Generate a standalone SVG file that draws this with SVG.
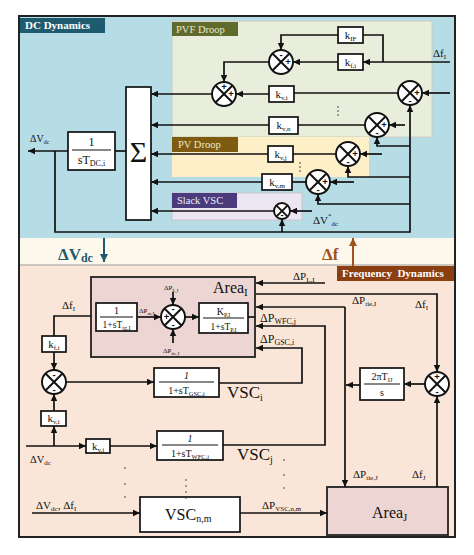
<svg xmlns="http://www.w3.org/2000/svg" width="474" height="555" viewBox="0 0 474 555">
<style>
text{font-family:"Liberation Serif","Times New Roman",serif;fill:#111}
.c line,.c path{fill:none;stroke:#111;stroke-width:1.7}
.a{marker-end:url(#ar)}
.blk{fill:#fff;stroke:#111;stroke-width:1.7}
.sj circle{fill:#fff;stroke:#111;stroke-width:1.9}
.sj line{stroke:#111;stroke-width:1.9}
.sg{font-size:9.5px;font-weight:bold;font-family:"Liberation Sans",Arial,sans-serif;text-anchor:middle}
.lbl{font-weight:bold;fill:#fff;font-size:11px}
.k{font-size:11px;text-anchor:middle}
.m{text-anchor:middle}
</style>
<defs>
<marker id="ar" markerWidth="8" markerHeight="8" refX="7" refY="4" orient="auto" markerUnits="userSpaceOnUse">
<path d="M0,0.8 L7,4 L0,7.2 z" fill="#111"/>
</marker>
<marker id="art" markerWidth="9" markerHeight="9" refX="8" refY="4.5" orient="auto" markerUnits="userSpaceOnUse">
<path d="M0,0.5 L8,4.5 L0,8.5 z" fill="#1f5b6f"/>
</marker>
<marker id="arb" markerWidth="9" markerHeight="9" refX="8" refY="4.5" orient="auto" markerUnits="userSpaceOnUse">
<path d="M0,0.5 L8,4.5 L0,8.5 z" fill="#a0521c"/>
</marker>
<g id="x12" class="sj"><circle r="12"/><line x1="-8.5" y1="-8.5" x2="8.5" y2="8.5"/><line x1="-8.5" y1="8.5" x2="8.5" y2="-8.5"/></g>
<g id="x8" class="sj"><circle r="8"/><line x1="-5.7" y1="-5.7" x2="5.7" y2="5.7"/><line x1="-5.7" y1="5.7" x2="5.7" y2="-5.7"/></g>
</defs>

<!-- backgrounds -->
<g id="frame">
<rect x="19" y="16" width="436" height="521" fill="#fae6d8"/>
<rect x="19" y="16" width="436" height="222" fill="#b6dce6"/>
<rect x="19" y="238" width="436" height="27" fill="#fdf8ec"/>
<line x1="19" y1="265" x2="455" y2="265" stroke="#999" stroke-width="1"/>
<rect x="19" y="16" width="436" height="521" fill="none" stroke="#222" stroke-width="2"/>
</g>
<g id="pvf-region"><rect x="172" y="21" width="260" height="116" fill="#e9eedc" stroke="#c9ccbf" stroke-width="1"/><rect x="172" y="22" width="66" height="14" fill="#5f6b2c"/><text x="176" y="33" font-size="10.5" style="fill:#efe6c6">PVF Droop</text></g>
<g id="pv-region"><rect x="172" y="137" width="197" height="40" fill="#fdf0c8"/><rect x="172" y="137" width="66" height="15" fill="#7d5c12"/><text x="178" y="148" font-size="10.5" style="fill:#f3e6c0">PV Droop</text></g>
<g id="slack-region"><rect x="172" y="193" width="130" height="27" fill="#ebe6f2" stroke="#c8c4d0" stroke-width="1"/><rect x="172" y="193" width="65" height="15" fill="#4b3b7c"/><text x="177" y="204" font-size="10.5" style="fill:#f0ecf8">Slack VSC</text></g>
<g id="dc-label"><rect x="20" y="18" width="85" height="15" fill="#1f5b6f"/><text x="25" y="29" class="lbl">DC Dynamics</text></g>
<g id="areaI-bg"><rect x="91" y="277" width="164" height="80" fill="#edd5d3" stroke="#222" stroke-width="1.8"/></g>
<g id="areaJ"><rect x="327" y="487" width="121" height="48" fill="#edd5d3" stroke="#222" stroke-width="1.8"/><text x="372" y="518" font-size="16">Area<tspan font-size="11" dy="3">J</tspan></text></g>

<!-- connectors -->
<g id="connectors" class="c">
<path class="a" d="M450,62 H363"/>
<path d="M383,62 V35 H363"/>
<path class="a" d="M338,35 H281 V50"/>
<path class="a" d="M338,62 H293"/>
<path class="a" d="M269,62 H224 V82"/>
<path class="a" d="M450,93 H422"/>
<path d="M398,93 H294"/>
<path class="a" d="M269,94 H236"/>
<path class="a" d="M212,94 H151"/>
<path class="a" d="M405,125 H389"/>
<path d="M365,125 H298"/>
<path class="a" d="M269,125 H151"/>
<path class="a" d="M410,146 H377 V137"/>
<path class="a" d="M382,154 H360"/>
<path d="M336,154 H293"/>
<path class="a" d="M268,154 H151"/>
<path class="a" d="M410,177 H348 V166"/>
<path class="a" d="M354,182 H330"/>
<path d="M306,182 H292"/>
<path class="a" d="M262,182 H151"/>
<path class="a" d="M410,204 H318 V194"/>
<path class="a" d="M312,211 H290"/>
<path class="a" d="M274,211 H151"/>
<path class="a" d="M282,232 V219"/>
<path class="a" d="M55,151 V232 H410 V105"/>
<path d="M126,151 H115"/>
<path class="a" d="M68,151 H28"/>
<path d="M104,238 V262" style="stroke:#1f5b6f;stroke-width:2;marker-end:url(#art)"/>
<path d="M353,266 V238" style="stroke:#a0521c;stroke-width:2;marker-end:url(#arb)"/>
<path d="M91,316 H54 V336"/>
<path class="a" d="M54,352 V370"/>
<path class="a" d="M66,382 H154"/>
<path class="a" d="M26,446 H86"/>
<path class="a" d="M54,446 V426"/>
<path class="a" d="M54,411 V394"/>
<path class="a" d="M110,446 H157"/>
<path class="a" d="M219,383 H302 V348 H256"/>
<path class="a" d="M223,445 H325 V326 H256"/>
<path class="a" d="M345,307 H256"/>
<path class="a" d="M345,307 V487"/>
<path class="a" d="M325,283 H256"/>
<path class="a" d="M256,294 H437 V372"/>
<path class="a" d="M425,384 H404"/>
<path class="a" d="M360,385 H346"/>
<path class="a" d="M437,487 V396"/>
<path class="a" d="M32,513 H140"/>
<path class="a" d="M240,513 H327"/>
<path class="a" d="M137,317 H161"/>
<path class="a" d="M173,292 V305"/>
<path class="a" d="M173,343 V329"/>
<path class="a" d="M185,317 H199"/>
<path d="M248,317 H255"/>
</g>

<!-- top nodes -->
<g id="sum"><rect class="blk" x="126" y="87" width="25" height="133"/><text x="138.5" y="162" font-size="30" class="m">Σ</text></g>
<g id="tdc"><rect class="blk" x="68" y="132" width="47" height="38"/><text x="91.5" y="146" font-size="12" class="m">1</text><line x1="72" y1="150" x2="111" y2="150" stroke="#111" stroke-width="1.2"/><text x="91.5" y="164" font-size="12" class="m">sT<tspan font-size="8" dy="2">DC,i</tspan></text></g>
<g id="kIF"><rect class="blk" x="338" y="27" width="25" height="16"/><text x="350.5" y="39" class="k">k<tspan font-size="7" dy="2">IF</tspan></text></g>
<g id="kfi-top"><rect class="blk" x="338" y="54" width="25" height="16"/><text x="350.5" y="66" class="k">k<tspan font-size="7" dy="2">f,i</tspan></text></g>
<g id="kvi-top"><rect class="blk" x="269" y="86" width="25" height="16"/><text x="281.5" y="98" class="k">k<tspan font-size="7" dy="2">v,i</tspan></text></g>
<g id="kvn"><rect class="blk" x="269" y="117" width="29" height="17"/><text x="283.5" y="129" class="k">k<tspan font-size="7" dy="2">v,n</tspan></text></g>
<g id="kvj-top"><rect class="blk" x="268" y="146" width="25" height="16"/><text x="280.5" y="158" class="k">k<tspan font-size="7" dy="2">v,j</tspan></text></g>
<g id="kvm"><rect class="blk" x="262" y="174" width="30" height="16"/><text x="277" y="186" class="k">k<tspan font-size="7" dy="2">v,m</tspan></text></g>
<g id="j1"><use href="#x12" x="281" y="62"/><text x="281" y="58" class="sg">-</text><text x="288" y="65" class="sg">+</text></g>
<g id="j2"><use href="#x12" x="224" y="94"/><text x="224" y="90" class="sg">+</text><text x="231" y="97" class="sg">+</text></g>
<g id="jr"><use href="#x12" x="410" y="93"/><text x="417" y="96" class="sg">+</text><text x="410" y="104" class="sg">-</text></g>
<g id="j3"><use href="#x12" x="377" y="125"/><text x="384" y="128" class="sg">+</text><text x="377" y="136" class="sg">-</text></g>
<g id="j4"><use href="#x12" x="348" y="154"/><text x="355" y="157" class="sg">+</text><text x="348" y="165" class="sg">-</text></g>
<g id="j5"><use href="#x12" x="318" y="182"/><text x="325" y="185" class="sg">+</text><text x="318" y="193" class="sg">-</text></g>
<g id="js"><use href="#x8" x="282" y="211"/><text x="282" y="218" class="sg" font-size="7">-</text></g>
<g id="dots-top"><circle cx="338" cy="107" r="0.8" fill="#333"/><circle cx="338" cy="111" r="0.8" fill="#333"/><circle cx="338" cy="115" r="0.8" fill="#333"/><circle cx="300" cy="163" r="0.8" fill="#333"/><circle cx="300" cy="167" r="0.8" fill="#333"/><circle cx="300" cy="171" r="0.8" fill="#333"/></g>
<g id="top-labels">
<text x="433" y="57" font-size="11">Δf<tspan font-size="7" dy="2">I</tspan></text>
<text x="30" y="142" font-size="10">ΔV<tspan font-size="6" dy="2">dc</tspan></text>
<text x="313" y="224" font-size="11">ΔV<tspan font-size="7" dy="-6">*</tspan><tspan font-size="7" dy="8">dc</tspan></text>
</g>

<!-- middle -->
<g id="mid-labels">
<text x="58" y="260" font-size="17" font-weight="bold" style="fill:#1f5b6f">ΔV<tspan font-size="12" dy="2">dc</tspan></text>
<text x="322" y="260" font-size="17" font-weight="bold" style="fill:#a0521c">Δf</text>
<rect x="337" y="266" width="117" height="15" fill="#8b3e0f"/>
<text x="342" y="277" class="lbl" font-size="10.5" xml:space="preserve">Frequency  Dynamics</text>
</g>

<!-- area I internals -->
<g id="areaI">
<text x="213" y="293" font-size="16">Area<tspan font-size="11" dy="3">I</tspan></text>
<rect class="blk" x="96" y="303" width="41" height="28"/><text x="116.5" y="314" font-size="10" class="m">1</text><line x1="100" y1="317" x2="133" y2="317" stroke="#111" stroke-width="1"/><text x="116.5" y="328" font-size="9.5" class="m">1+sT<tspan font-size="6" dy="2">tg,I</tspan></text>
<text x="139" y="313" font-size="7">ΔP<tspan font-size="5" dy="1.5">m,I</tspan></text>
<text x="164" y="290" font-size="7">ΔP<tspan font-size="5" dy="1.5">L,I</tspan></text>
<text x="163" y="353" font-size="7">ΔP<tspan font-size="5" dy="1.5">tie,I</tspan></text>
<use href="#x12" x="173" y="317"/><text x="173" y="312" class="sg" font-size="7">-</text><text x="166.5" y="320" class="sg" font-size="7">+</text><text x="173" y="328" class="sg" font-size="7">-</text>
<rect class="blk" x="199" y="303" width="49" height="30"/><text x="223.5" y="315" font-size="10" class="m">K<tspan font-size="6" dy="2">P,I</tspan></text><line x1="203" y1="318" x2="244" y2="318" stroke="#111" stroke-width="1"/><text x="223.5" y="330" font-size="9.5" class="m">1+sT<tspan font-size="6" dy="2">P,I</tspan></text>
</g>

<!-- lower nodes -->
<g id="kfi-low"><rect class="blk" x="42" y="336" width="24" height="16"/><text x="54" y="348" class="k">k<tspan font-size="7" dy="2">f,i</tspan></text></g>
<g id="jb"><use href="#x12" x="54" y="382"/><text x="54" y="378" class="sg">-</text><text x="54" y="393" class="sg">-</text></g>
<g id="kvi-low"><rect class="blk" x="41" y="411" width="25" height="15"/><text x="53.5" y="422" class="k">k<tspan font-size="7" dy="2">v,i</tspan></text></g>
<g id="kvj-low"><rect class="blk" x="86" y="439" width="24" height="14"/><text x="98" y="450" class="k">k<tspan font-size="7" dy="2">v,j</tspan></text></g>
<g id="gsc"><rect class="blk" x="154" y="368" width="65" height="29"/><text x="186.5" y="379" font-size="10" font-style="italic" class="m">1</text><line x1="159" y1="382" x2="214" y2="382" stroke="#111" stroke-width="1"/><text x="186.5" y="394" font-size="10" class="m">1+sT<tspan font-size="6.5" dy="2">GSC,i</tspan></text></g>
<g id="wfc"><rect class="blk" x="157" y="431" width="66" height="29"/><text x="190" y="442" font-size="10" font-style="italic" class="m">1</text><line x1="162" y1="445" x2="218" y2="445" stroke="#111" stroke-width="1"/><text x="190" y="457" font-size="10" class="m">1+sT<tspan font-size="6.5" dy="2">WFC,j</tspan></text></g>
<g id="vscnm"><rect class="blk" x="140" y="497" width="100" height="35"/><text x="165" y="520" font-size="16">VSC<tspan font-size="10" dy="2">n,m</tspan></text></g>
<g id="tij"><rect class="blk" x="360" y="368" width="44" height="32"/><text x="382" y="380" font-size="10" class="m">2πT<tspan font-size="6.5" dy="2">IJ</tspan></text><line x1="364" y1="384" x2="400" y2="384" stroke="#111" stroke-width="1"/><text x="382" y="396" font-size="10" class="m">s</text></g>
<g id="jc"><use href="#x12" x="437" y="384"/><text x="437" y="380" class="sg">+</text><text x="437" y="395" class="sg">-</text></g>
<g id="low-labels">
<text x="62" y="309" font-size="11">Δf<tspan font-size="7" dy="2">I</tspan></text>
<text x="227" y="398" font-size="17">VSC<tspan font-size="10" dy="3">i</tspan></text>
<text x="237" y="460" font-size="17">VSC<tspan font-size="10" dy="3">j</tspan></text>
<text x="30" y="463" font-size="10.5">ΔV<tspan font-size="7" dy="2">dc</tspan></text>
<text x="293" y="280" font-size="11">ΔP<tspan font-size="7" dy="2">L,I</tspan></text>
<text x="352" y="304" font-size="11">ΔP<tspan font-size="7" dy="2">tie,I</tspan></text>
<text x="415" y="308" font-size="11">Δf<tspan font-size="7" dy="2">I</tspan></text>
<text x="260" y="322" font-size="12">ΔP<tspan font-size="8" dy="2">WFC,j</tspan></text>
<text x="260" y="343" font-size="12">ΔP<tspan font-size="8" dy="2">GSC,i</tspan></text>
<text x="353" y="478" font-size="11">ΔP<tspan font-size="7" dy="2">tie,J</tspan></text>
<text x="412" y="478" font-size="11">Δf<tspan font-size="7" dy="2">J</tspan></text>
<text x="36" y="509" font-size="11">ΔV<tspan font-size="7" dy="2">dc</tspan><tspan dy="-2">, Δf</tspan><tspan font-size="7" dy="2">I</tspan></text>
<text x="262" y="509" font-size="11">ΔP<tspan font-size="7" dy="2">VSC,n,m</tspan></text>
</g>
<g id="dots-low" fill="#333"><circle cx="125" cy="468" r="0.8"/><circle cx="125" cy="484" r="0.8"/><circle cx="125" cy="497" r="0.8"/><circle cx="186" cy="480" r="0.8"/><circle cx="186" cy="486" r="0.8"/><circle cx="186" cy="492" r="0.8"/><circle cx="186" cy="498" r="0.8"/><circle cx="284" cy="460" r="0.8"/><circle cx="284" cy="475" r="0.8"/><circle cx="284" cy="488" r="0.8"/></g>
</svg>
